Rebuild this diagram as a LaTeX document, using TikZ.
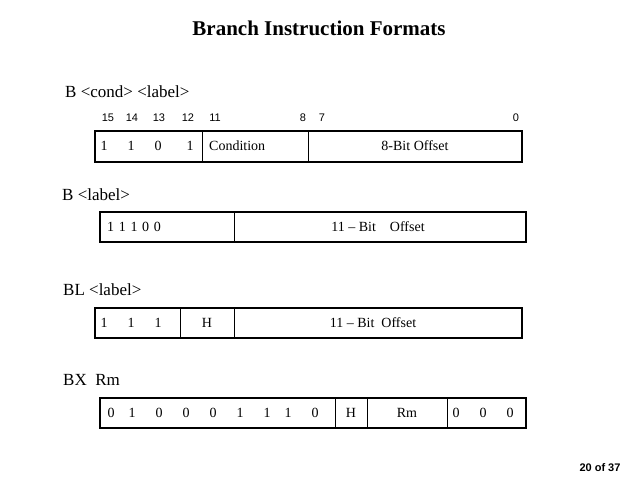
\documentclass[tikz,border=0pt]{standalone}
\usepackage{fontspec}
\setmainfont{Liberation Serif}
\setsansfont{Liberation Sans}
\begin{document}
\begin{tikzpicture}[x=1pt,y=-1pt,
  frame/.style={draw,line width=1.8pt},
  div/.style={draw,line width=0.7pt},
  tx/.style={font=\fontsize{14}{16}\selectfont,inner sep=0pt},
  hd/.style={font=\fontsize{17}{20}\selectfont,anchor=west,inner sep=0pt},
  bn/.style={font=\sffamily\fontsize{11}{13}\selectfont,inner sep=0pt}]
\useasboundingbox (0,0) rectangle (638,478);
\node[font=\bfseries\fontsize{21}{24}\selectfont] (title) at (319,28) {Branch Instruction Formats};
% format 1
\node[hd] (h1) at (65,92) {B <cond> <label>};
\foreach \n/\x in {15/108,14/132,13/159,12/188,11/215,8/303,7/322,0/516}
  \node[bn] (b\n) at (\x,118) {\n};
\draw[frame] (95,131) rectangle (522,162);
\draw[div] (202,131) -- (202,162) (308,131) -- (308,162);
\foreach \t/\x [count=\i] in {1/104,1/131,0/158,1/190} \node[tx] (a\i) at (\x,146) {\t};
\node[tx,anchor=west] (cond) at (209,146) {Condition};
\node[tx] (off8) at (415,146) {8-Bit Offset};
% format 2
\node[hd] (h2) at (62,195) {B <label>};
\draw[frame] (100,212) rectangle (526,242);
\draw[div] (234,212) -- (234,242);
\node[tx,anchor=west] (c1) at (107,227) {1\,\,1\,\,1\,\,0\,\,0};
\node[tx] (off11a) at (378,227) {11 – Bit\quad Offset};
% format 3
\node[hd] (h3) at (63,290) {BL <label>};
\draw[frame] (95,308) rectangle (522,338);
\draw[div] (180,308) -- (180,338) (234,308) -- (234,338);
\foreach \x [count=\i] in {104,131,158} \node[tx] (d\i) at (\x,323) {1};
\node[tx] (hh) at (207,323) {H};
\node[tx] (off11b) at (373,323) {11 – Bit\enspace Offset};
% format 4
\node[hd] (h4) at (63,380) {BX\enspace Rm};
\draw[frame] (100,398) rectangle (526,428);
\draw[div] (335,398) -- (335,428) (367,398) -- (367,428) (447,398) -- (447,428);
\foreach \t/\x [count=\i] in {0/111,1/132,0/159,0/186,0/213,1/240,1/267,1/288,0/315,H/351,Rm/407,0/456,0/483,0/510}
  \node[tx] (e\i) at (\x,413) {\t};
\node[font=\sffamily\bfseries\fontsize{11}{13}\selectfont] (pg) at (600,468) {20 of 37};
\end{tikzpicture}
\end{document}
